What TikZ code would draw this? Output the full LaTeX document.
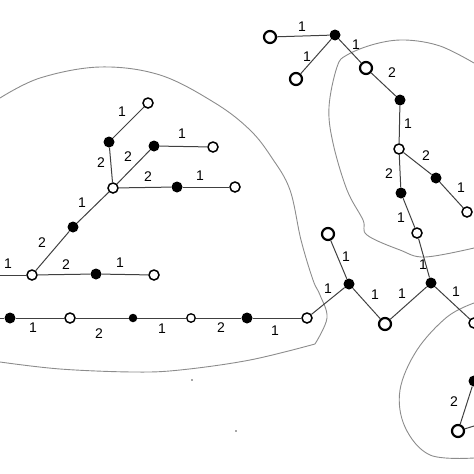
\documentclass[tikz,border=0pt]{standalone}
\usepackage{fontspec}
\setmainfont{Liberation Sans}
\begin{document}
\begin{tikzpicture}[x=1pt,y=-1pt,
  opn/.style={circle,draw=black,fill=white,line width=1.5pt,inner sep=0pt,minimum size=10pt},
  opnb/.style={circle,draw=black,fill=white,line width=2.2pt,inner sep=0pt,minimum size=12pt},
  opns/.style={circle,draw=black,fill=white,line width=1.3pt,inner sep=0pt,minimum size=8.5pt},
  fil/.style={circle,fill=black,inner sep=0pt,minimum size=11pt},
  fils/.style={circle,fill=black,inner sep=0pt,minimum size=8.5pt},
  lab/.style={font=\fontsize{14}{14}\selectfont,inner sep=0pt},
  edg/.style={draw=black!75,line width=1pt},
  reg/.style={draw=black!45,line width=0.9pt}]
\useasboundingbox (0,0) rectangle (474,474);
% regions
\draw[reg] plot[smooth,tension=0.6] coordinates {(0,98) (40,78) (100,67) (160,75) (215,103) (250,130) (272,158) (290,190) (301,240) (313,280) (320,295) (327,318) (315,344)};
\draw[reg] plot[smooth,tension=0.6] coordinates {(315,344) (250,360) (180,370) (133,372) (60,369) (0,362)};
\draw[reg] plot[smooth,tension=0.6] coordinates {(474,63) (440,46) (405,40) (375,44) (347,55) (337,67) (329,107) (333,143) (347,190) (363,220) (367,235) (400,250) (425,257) (474,248)};
\draw[reg] plot[smooth,tension=0.6] coordinates {(474,303) (447,317) (417,350) (400,390) (405,427) (430,455) (474,458)};
% stray dots
\fill[black!70] (192,380) circle (0.9pt);
\fill[black!70] (236,431) circle (0.9pt);
% left cluster
\node[opn] (a1) at (148,103) {};
\node[fil] (a2) at (109,142) {};
\node[fil] (a3) at (154,146) {};
\node[opn] (a4) at (213,147) {};
\node[opn] (a5) at (113,188) {};
\node[fil] (a6) at (177,187) {};
\node[opn] (a7) at (235,187) {};
\node[fil] (a8) at (73,227) {};
\node[opn] (a9) at (32,275) {};
\node[fil] (a10) at (96,274) {};
\node[opn] (a11) at (154,275) {};
\coordinate (a0) at (0,275);
% bottom chain
\coordinate (b0) at (0,318);
\node[fil] (b1) at (10,318) {};
\node[opn] (b2) at (70,318) {};
\node[fils] (b3) at (133,318) {};
\node[opns] (b4) at (191,318) {};
\node[fil] (b5) at (247,318) {};
\node[opn] (b6) at (307,318) {};
% middle
\node[opnb] (c1) at (328,234) {};
\node[fil] (c2) at (349,284) {};
\node[opnb] (c3) at (385,324) {};
\node[fil] (c4) at (431,283) {};
\node[opn] (c5) at (417,233) {};
\node[opn] (c6) at (474,323) {};
\node[fil] (c7) at (474,381) {};
\node[opnb] (c8) at (458,431) {};
\coordinate (c9) at (474,426);
% top right
\node[opnb] (d1) at (270,37) {};
\node[fil] (d2) at (335,35) {};
\node[opnb] (d3) at (296,79) {};
\node[opnb] (d4) at (366,68) {};
\node[fil] (d5) at (400,100) {};
\node[opn] (d6) at (399,149) {};
\node[fil] (d7) at (436,178) {};
\node[opn] (d8) at (467,212) {};
\node[fil] (d9) at (401,193) {};
% edges
\draw[edg] (a1) -- (a2);
\draw[edg] (a2) -- (a5);
\draw[edg] (a5) -- (a3);
\draw[edg] (a3) -- (a4);
\draw[edg] (a5) -- (a6);
\draw[edg] (a6) -- (a7);
\draw[edg] (a5) -- (a8);
\draw[edg] (a8) -- (a9);
\draw[edg] (a0) -- (a9);
\draw[edg] (a9) -- (a10);
\draw[edg] (a10) -- (a11);
\draw[edg] (b0) -- (b1);
\draw[edg] (b1) -- (b2);
\draw[edg] (b2) -- (b3);
\draw[edg] (b3) -- (b4);
\draw[edg] (b4) -- (b5);
\draw[edg] (b5) -- (b6);
\draw[edg] (b6) -- (c2);
\draw[edg] (c1) -- (c2);
\draw[edg] (c2) -- (c3);
\draw[edg] (c3) -- (c4);
\draw[edg] (c5) -- (c4);
\draw[edg] (c4) -- (c6);
\draw[edg,draw=black!35] (c6) -- (c7);
\draw[edg] (c7) -- (c8);
\draw[edg] (c8) -- (c9);
\draw[edg] (d1) -- (d2);
\draw[edg] (d3) -- (d2);
\draw[edg] (d2) -- (d4);
\draw[edg] (d4) -- (d5);
\draw[edg] (d5) -- (d6);
\draw[edg] (d6) -- (d7);
\draw[edg] (d7) -- (d8);
\draw[edg] (d6) -- (d9);
\draw[edg] (d9) -- (c5);
% labels
\node[lab] (l1) at (122,112) {1};
\node[lab] (l2) at (101,163) {2};
\node[lab] (l3) at (128,157) {2};
\node[lab] (l4) at (182,134) {1};
\node[lab] (l5) at (148,177) {2};
\node[lab] (l6) at (200,176) {1};
\node[lab] (l7) at (82,203) {1};
\node[lab] (l8) at (42,243) {2};
\node[lab] (l9) at (8,264) {1};
\node[lab] (l10) at (66,265) {2};
\node[lab] (l11) at (120,263) {1};
\node[lab] (l12) at (33,328) {1};
\node[lab] (l13) at (99,334) {2};
\node[lab] (l14) at (162,329) {1};
\node[lab] (l15) at (221,328) {2};
\node[lab] (l16) at (275,331) {1};
\node[lab] (l17) at (328,289) {1};
\node[lab] (l18) at (346,257) {1};
\node[lab] (l19) at (375,295) {1};
\node[lab] (l20) at (402,294) {1};
\node[lab] (l21) at (423,265) {1};
\node[lab] (l22) at (456,292) {1};
\node[lab] (l23) at (454,402) {2};
\node[lab] (l24) at (302,27) {1};
\node[lab] (l25) at (307,57) {1};
\node[lab] (l26) at (356,45) {1};
\node[lab] (l27) at (392,73) {2};
\node[lab] (l28) at (408,124) {1};
\node[lab] (l29) at (426,156) {2};
\node[lab] (l30) at (461,188) {1};
\node[lab] (l31) at (389,174) {2};
\node[lab] (l32) at (401,218) {1};
\end{tikzpicture}
\end{document}
